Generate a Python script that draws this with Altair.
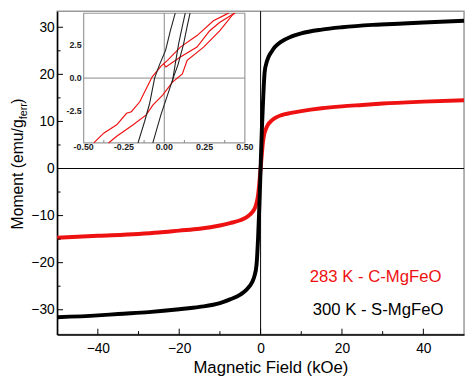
import altair as alt
import pandas as pd

# ---------------- data ----------------
# main plot: field (kOe) and moment (emu/g_ferr)
black_main_x = [-50, -40, -35, -27.5, -20, -15, -10, -7.5, -5, -3.5, -2.7, -2, -1.5, -1, -0.6, -0.3, 0,
                0.3, 0.6, 1, 1.5, 2, 2.7, 3.5, 5, 7.5, 10, 15, 20, 27.5, 35, 40, 50]
black_main_y = [-31.6, -31.2, -30.9, -30.5, -29.9, -29.4, -28.6, -27.8, -26.8, -25.8, -25.0, -24.0, -22.8, -20.5, -14.5, -8.0, 0,
                8.0, 14.2, 20.5, 22.6, 23.8, 24.8, 25.8, 26.9, 28.0, 28.7, 29.5, 30.0, 30.5, 30.8, 31.0, 31.4]
red_main_x = [-50, -40, -30, -25, -20, -15, -10, -7.5, -5, -3.5, -2.5, -1.8, -1.3, -0.9, -0.6, -0.3, 0,
              0.3, 0.6, 0.9, 1.3, 1.8, 2.5, 3.5, 5, 7.5, 10, 15, 20, 25, 30, 40, 50]
red_main_y = [-14.7, -14.3, -13.9, -13.6, -13.2, -12.8, -12.1, -11.6, -11.0, -10.4, -9.7, -9.0, -8.2, -7.0, -5.5, -3.0, 0,
              3.0, 5.8, 7.3, 8.4, 9.3, 10.0, 10.7, 11.3, 11.8, 12.2, 12.8, 13.2, 13.5, 13.8, 14.2, 14.5]

# inset loops
red_desc_x = [-0.437, -0.376, -0.295, -0.234, -0.204, -0.152, -0.075, -0.02, 0.02, 0.10, 0.203, 0.305, 0.386, 0.40]
red_desc_y = [-4.9, -4.16, -3.53, -2.66, -2.54, -1.79, 0.1, 0.9, 1.34, 2.34, 3.21, 4.33, 4.83, 4.9]
red_asc_x = [-0.346, -0.295, -0.193, -0.112, -0.071, -0.010, 0.051, 0.112, 0.142, 0.244, 0.345, 0.427, 0.44]
red_asc_y = [-4.9, -4.40, -3.53, -2.78, -2.04, -1.29, -0.30, 0.32, 1.34, 2.34, 3.58, 4.83, 4.9]
red_third_x = [-0.005, 0.01, 0.10, 0.203, 0.282, 0.343, 0.435]
red_third_y = [1.1, 0.84, 1.59, 2.34, 3.58, 4.2, 4.9]
blk_left_x = [-0.163, -0.122, -0.091, -0.06, -0.03, 0.008, 0.038, 0.068]
blk_left_y = [-4.9, -3.28, -1.92, 0.0, 1.0, 2.09, 3.58, 4.9]
blk_right_x = [-0.071, -0.021, 0.02, 0.055, 0.085, 0.12, 0.14, 0.16]
blk_right_y = [-4.9, -2.78, -1.29, 0.0, 1.0, 2.59, 3.8, 4.9]
blk_mid_x = [0.05, 0.07, 0.089, 0.11, 0.13]
blk_mid_y = [-0.3, 1.2, 2.59, 3.8, 4.9]

# ticks and labels
x_major = [-40, -20, 0, 20, 40]
x_minor = [-30, -10, 10, 30]
y_major = [-30, -20, -10, 0, 10, 20, 30]
y_minor = [-25, -15, -5, 5, 15, 25]
inset_x_ticks = [-0.5, -0.25, 0.0, 0.25, 0.5]
inset_x_labels = ["-0.50", "-0.25", "0.00", "0.25", "0.50"]
inset_x_minor = [-0.375, -0.125, 0.125, 0.375]
inset_y_ticks = [-2.5, 0.0, 2.5]
inset_y_labels = ["-2.5", "0.0", "2.5"]
inset_box_x = [-0.5, 0.5]
inset_box_y = [-4.9, 4.9]
legend_labels = ["283 K - C-MgFeO", "300 K - S-MgFeO"]
ytitle_parts = ["Moment (emu/g", "ferr", ")"]
xtitle = "Magnetic Field (kOe)"

RED = "#ee1111"
FONT = "Liberation Sans"
W, H = 414, 329

XS = alt.Scale(domain=[-50, 50], nice=False, zero=False)
YS = alt.Scale(domain=[-35.28, 33.4], nice=False, zero=False)
IXS = alt.Scale(domain=[-0.5, 0.5], range=[27, 191], nice=False, zero=False)
IYS = alt.Scale(domain=[-4.9, 4.9], range=[134, 2], nice=False, zero=False)

x_axis = alt.Axis(values=x_major, title=xtitle, ticks=False, tickSize=0, labelPadding=7,
                  titleFontSize=17, titleFontWeight="normal", titleFont=FONT, titleColor="black",
                  titlePadding=5, titleX=217)
y_axis = alt.Axis(values=y_major, title=None, ticks=False, tickSize=0, labelPadding=3)


def main_line(xs, ys, color):
    df = pd.DataFrame({"H": xs, "M": ys, "i": list(range(len(xs)))})
    return alt.Chart(df).mark_line(color=color, strokeWidth=4, interpolate="monotone").encode(
        x=alt.X("H:Q", scale=XS, axis=x_axis),
        y=alt.Y("M:Q", scale=YS, axis=y_axis),
        order="i:Q",
    )


def inset_line(xs, ys, color, w):
    df = pd.DataFrame({"H": xs, "M": ys, "i": list(range(len(xs)))})
    return alt.Chart(df).mark_line(color=color, strokeWidth=w).encode(
        x=alt.X("H:Q", scale=IXS, axis=None),
        y=alt.Y("M:Q", scale=IYS, axis=None),
        order="i:Q",
    )


zero_df = pd.DataFrame({"v": [0]})
zero_h = alt.Chart(zero_df).mark_rule(color="black", strokeWidth=1).encode(
    y=alt.Y("v:Q", scale=YS, axis=y_axis))
zero_v = alt.Chart(zero_df).mark_rule(color="black", strokeWidth=1).encode(
    x=alt.X("v:Q", scale=XS, axis=x_axis))

xt_major = alt.Chart(pd.DataFrame({"v": x_major})).mark_rule(color="black").encode(
    x=alt.X("v:Q", scale=XS, axis=x_axis), y=alt.value(H), y2=alt.value(H - 6))
xt_minor = alt.Chart(pd.DataFrame({"v": x_minor})).mark_rule(color="black").encode(
    x=alt.X("v:Q", scale=XS, axis=x_axis), y=alt.value(H), y2=alt.value(H - 3.5))
yt_major = alt.Chart(pd.DataFrame({"v": y_major})).mark_rule(color="black").encode(
    y=alt.Y("v:Q", scale=YS, axis=y_axis), x=alt.value(0), x2=alt.value(6))
yt_minor = alt.Chart(pd.DataFrame({"v": y_minor})).mark_rule(color="black").encode(
    y=alt.Y("v:Q", scale=YS, axis=y_axis), x=alt.value(0), x2=alt.value(3.5))

leg_red = alt.Chart(pd.DataFrame({"t": [legend_labels[0]]})).mark_text(
    font=FONT, fontSize=17, color=RED, align="left", baseline="alphabetic").encode(
    x=alt.value(257), y=alt.value(275), text="t:N")
leg_blk = alt.Chart(pd.DataFrame({"t": [legend_labels[1]]})).mark_text(
    font=FONT, fontSize=17, color="black", align="left", baseline="alphabetic").encode(
    x=alt.value(260), y=alt.value(309), text="t:N")

yt1 = alt.Chart(pd.DataFrame({"t": [ytitle_parts[0]]})).mark_text(
    font=FONT, fontSize=16, color="black", align="left", baseline="alphabetic", angle=270).encode(
    x=alt.value(-35), y=alt.value(222), text="t:N")
yt2 = alt.Chart(pd.DataFrame({"t": [ytitle_parts[1]]})).mark_text(
    font=FONT, fontSize=11, color="black", align="left", baseline="alphabetic", angle=270).encode(
    x=alt.value(-31), y=alt.value(110), text="t:N")
yt3 = alt.Chart(pd.DataFrame({"t": [ytitle_parts[2]]})).mark_text(
    font=FONT, fontSize=16, color="black", align="left", baseline="alphabetic", angle=270).encode(
    x=alt.value(-35), y=alt.value(94), text="t:N")

main = alt.layer(
    zero_h, zero_v, main_line(red_main_x, red_main_y, RED), main_line(black_main_x, black_main_y, "black"),
    xt_major, xt_minor, yt_major, yt_minor, leg_red, leg_blk, yt1, yt2, yt3,
)

# ---------------- inset ----------------
box = alt.Chart(pd.DataFrame({"x0": [inset_box_x[0]], "x1": [inset_box_x[1]],
                              "y0": [inset_box_y[0]], "y1": [inset_box_y[1]]})).mark_rect(
    fill="white", stroke="#999999", strokeWidth=1.2).encode(
    x=alt.X("x0:Q", scale=IXS, axis=None), x2="x1:Q",
    y=alt.Y("y0:Q", scale=IYS, axis=None), y2="y1:Q")
izero_h = alt.Chart(zero_df).mark_rule(color="#888888", strokeWidth=1).encode(
    y=alt.Y("v:Q", scale=IYS, axis=None), x=alt.value(27), x2=alt.value(191))
izero_v = alt.Chart(zero_df).mark_rule(color="#888888", strokeWidth=1).encode(
    x=alt.X("v:Q", scale=IXS, axis=None), y=alt.value(2), y2=alt.value(134))
iticks = alt.Chart(pd.DataFrame({"v": inset_x_minor})).mark_rule(color="#888888").encode(
    x=alt.X("v:Q", scale=IXS, axis=None), y=alt.value(134), y2=alt.value(131))
ixlab = alt.Chart(pd.DataFrame({"v": inset_x_ticks, "t": inset_x_labels})).mark_text(
    font=FONT, fontSize=9, fontWeight="bold", color="#222222", align="center", baseline="top").encode(
    x=alt.X("v:Q", scale=IXS, axis=None), y=alt.value(134.5), text="t:N")
iylab = alt.Chart(pd.DataFrame({"v": inset_y_ticks, "t": inset_y_labels})).mark_text(
    font=FONT, fontSize=9, fontWeight="bold", color="#222222", align="right", baseline="middle").encode(
    y=alt.Y("v:Q", scale=IYS, axis=None), x=alt.value(25), text="t:N")

inset = alt.layer(
    box, izero_h, izero_v, iticks,
    inset_line(red_desc_x, red_desc_y, RED, 1.2),
    inset_line(red_asc_x, red_asc_y, RED, 1.2),
    inset_line(red_third_x, red_third_y, RED, 1.2),
    inset_line(blk_left_x, blk_left_y, "#222222", 1.1),
    inset_line(blk_right_x, blk_right_y, "#222222", 1.1),
    inset_line(blk_mid_x, blk_mid_y, "#222222", 1.1),
    ixlab, iylab,
)

chart = alt.layer(main, inset).resolve_scale(x="independent", y="independent").properties(
    width=W, height=H,
    padding={"left": 50, "top": 0, "right": 2, "bottom": 50},
    autosize=alt.AutoSizeParams(type="none"),
).configure_view(stroke="#999999", strokeWidth=1.5).configure_axis(
    domainColor="black", domainWidth=1.5, labelFont=FONT, labelFontSize=14, labelColor="black", grid=False,
)

chart.save("out.html", embed_options={"renderer": "svg", "actions": False})
